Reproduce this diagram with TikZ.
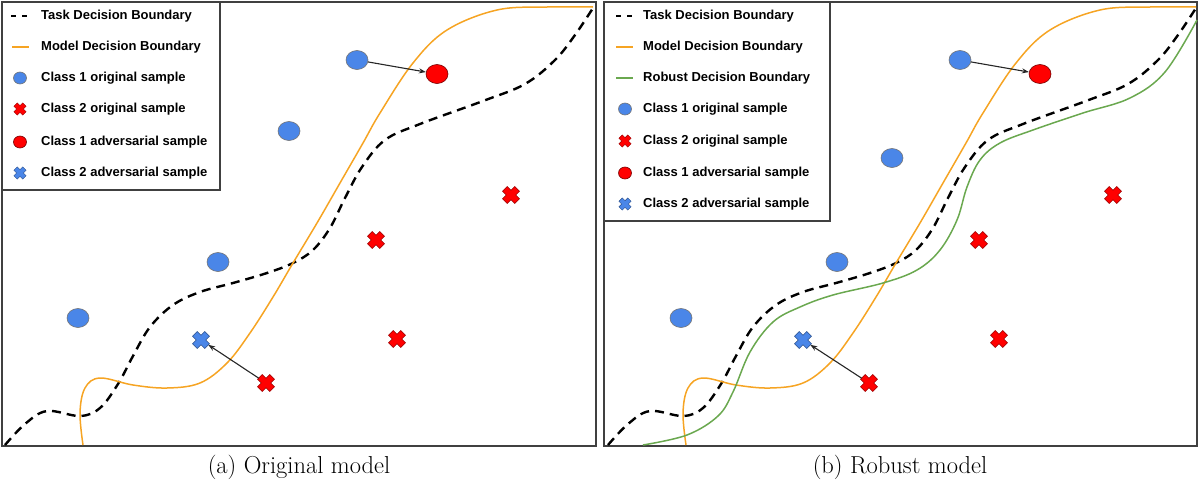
\documentclass[tikz,border=0pt]{standalone}
\usepackage{fontspec}
\newfontfamily\legfont{Liberation Sans}
\usetikzlibrary{shapes.geometric,arrows.meta}

\definecolor{cblue}{HTML}{4A86E8}
\definecolor{cred}{HTML}{FF0000}
\definecolor{corange}{HTML}{F6A423}
\definecolor{cgreen}{HTML}{6AA84F}

\tikzset{
  xcross/.pic={
    \filldraw[fill=#1, draw=#1!60!black, line width=0.5pt, rotate=45]
      (-3.3,-3.3) -- (-3.3,-8.7) -- (3.3,-8.7) -- (3.3,-3.3) -- (8.7,-3.3) -- (8.7,3.3)
      -- (3.3,3.3) -- (3.3,8.7) -- (-3.3,8.7) -- (-3.3,3.3) -- (-8.7,3.3) -- (-8.7,-3.3) -- cycle;
  }
}

\begin{document}
\begin{tikzpicture}[
      x=1pt, y=-1pt,
      dot/.style={
        ellipse,
        draw=black!55,
        line width=0.6pt,
        inner sep=0pt,
        minimum width=22pt,
        minimum height=19pt
      },
      orig/.style={dot, fill=cblue},
      adv/.style={dot, fill=cred, draw=red!45!black},
      legdot/.style={dot, minimum width=13pt, minimum height=12pt},
      xspot/.style={
        circle,
        inner sep=0pt,
        minimum size=17pt
      },
      arr/.style={
        -{Stealth[length=7pt,width=5pt]},
        line width=1.1pt,
        black!85
      },
      task/.style={black, line width=2.4pt, dash pattern=on 9pt off 6pt},
      model/.style={corange, line width=1.5pt},
      robust/.style={cgreen, line width=1.5pt},
      frame/.style={draw=black!75, line width=2.4pt},
      legtext/.style={anchor=west, inner sep=0pt, font=\legfont\bfseries\fontsize{13}{15}\selectfont},
      caption/.style={font=\fontsize{24.5}{28}\selectfont}
    ]
    \useasboundingbox (0,0) rectangle (1200,490);

    % frames
    \draw[frame] (2,2) rectangle (596,446);
    \draw[frame] (604,2) rectangle (1197,446);

    % boundaries, both panels
    \foreach \dx in {0,603} {
      \begin{scope}[xshift=\dx]
        \draw[task] plot[smooth, tension=0.6] coordinates {
          (5,445) (25,424) (47,411) (80,416) (100,408) (118,384) (133,356)
          (150,327) (173,305) (200,292) (233,283) (267,273) (293,263) (313,250)
          (330,228) (345,198) (362,167) (385,140) (420,124) (483,101)
          (525,84) (555,60) (575,35) (593,8)};
        \draw[model] plot[smooth, tension=0.6] coordinates {
          (83,445) (80,413) (85,388) (100,378) (133,385) (167,388) (200,383)
          (227,363) (250,333) (273,297) (293,263) (317,223) (340,183) (363,143)
          (380,113) (413,63) (447,30) (497,10) (547,7) (593,7)};
      \end{scope}
    }
    \draw[robust] plot[smooth, tension=0.6] coordinates {
      (643,445) (687,435) (718,416) (733,392) (750,352) (773,322) (800,307)
      (833,295) (883,283) (917,270) (940,250) (957,220) (967,187) (980,160)
      (1000,143) (1033,130) (1083,113) (1130,98) (1165,72) (1197,20)};

    % left panel samples
    \node[orig] (a1) at (357,60) {};
    \node[orig] (a2) at (289,131) {};
    \node[orig] (a3) at (218,262) {};
    \node[orig] (a4) at (78,318) {};
    \node[adv]  (a5) at (437,74) {};
    \node[xspot] (ar1) at (511,195) {};
    \node[xspot] (ar2) at (376,240) {};
    \node[xspot] (ar3) at (397,339) {};
    \node[xspot] (ar4) at (266,383) {};
    \node[xspot] (ab1) at (201,340) {};

    % right panel samples
    \node[orig] (b1) at (960,60) {};
    \node[orig] (b2) at (892,158) {};
    \node[orig] (b3) at (837,262) {};
    \node[orig] (b4) at (681,318) {};
    \node[adv]  (b5) at (1040,74) {};
    \node[xspot] (br1) at (1113,195) {};
    \node[xspot] (br2) at (979,240) {};
    \node[xspot] (br3) at (999,339) {};
    \node[xspot] (br4) at (869,383) {};
    \node[xspot] (bb1) at (803,340) {};

    \foreach \n in {ar1,ar2,ar3,ar4,br1,br2,br3,br4}
      \pic at (\n) {xcross=cred};
    \foreach \n in {ab1,bb1}
      \pic at (\n) {xcross=cblue};

    \draw[arr] (a1) -- (a5);
    \draw[arr] (ar4) -- (ab1);
    \draw[arr] (b1) -- (b5);
    \draw[arr] (br4) -- (bb1);

    % left legend
    \draw[draw=black!75, fill=white, line width=1.8pt] (2,2) rectangle (220,190);
    \draw[black, line width=2.2pt, dash pattern=on 5pt off 6pt] (11,16) -- (28,16);
    \draw[model] (12,47) -- (29,47);
    \node[legdot, fill=cblue] (la3) at (20,78) {};
    \pic[scale=0.72] at (20,109) {xcross=cred};
    \node[legdot, fill=cred, draw=red!45!black] (la5) at (20,142) {};
    \pic[scale=0.72] at (20,173) {xcross=cblue};
    \node[legtext] (lt1) at (41,16) {Task Decision Boundary};
    \node[legtext] (lt2) at (41,47) {Model Decision Boundary};
    \node[legtext] (lt3) at (41,78) {Class 1 original sample};
    \node[legtext] (lt4) at (41,109) {Class 2 original sample};
    \node[legtext] (lt5) at (41,142) {Class 1 adversarial sample};
    \node[legtext] (lt6) at (41,173) {Class 2 adversarial sample};

    % right legend
    \draw[draw=black!75, fill=white, line width=1.8pt] (604,2) rectangle (830,221);
    \draw[black, line width=2.2pt, dash pattern=on 5pt off 6pt] (616,16) -- (633,16);
    \draw[model] (616,47) -- (633,47);
    \draw[robust] (616,78) -- (633,78);
    \node[legdot, fill=cblue] (lb4) at (625,109) {};
    \pic[scale=0.72] at (625,141) {xcross=cred};
    \node[legdot, fill=cred, draw=red!45!black] (lb6) at (625,173) {};
    \pic[scale=0.72] at (625,204) {xcross=cblue};
    \node[legtext] (ls1) at (643,16) {Task Decision Boundary};
    \node[legtext] (ls2) at (643,47) {Model Decision Boundary};
    \node[legtext] (ls3) at (643,78) {Robust Decision Boundary};
    \node[legtext] (ls4) at (643,109) {Class 1 original sample};
    \node[legtext] (ls5) at (643,141) {Class 2 original sample};
    \node[legtext] (ls6) at (643,173) {Class 1 adversarial sample};
    \node[legtext] (ls7) at (643,204) {Class 2 adversarial sample};

    % captions
    \node[caption] (capa) at (299,467) {(a) Original model};
    \node[caption] (capb) at (900,467) {(b) Robust model};
  \end{tikzpicture}
\end{document}
